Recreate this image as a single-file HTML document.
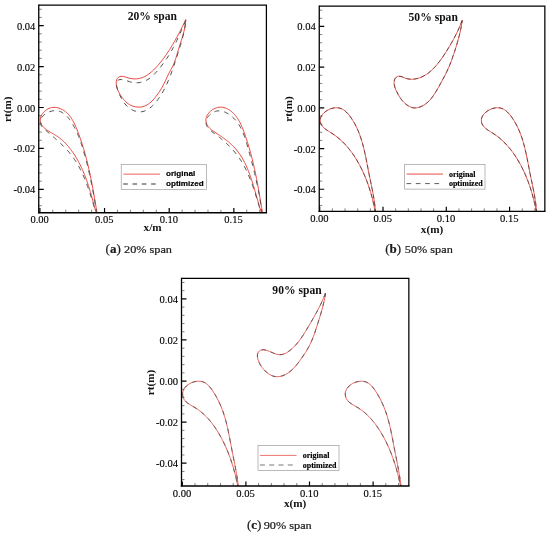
<!DOCTYPE html>
<html><head><meta charset="utf-8"><title>Blade profiles</title>
<style>
html,body{margin:0;padding:0;background:#fff;}
svg{display:block;}
text{font-family:"Liberation Serif",serif;fill:#111;}
.tk text{fill:#000;stroke:#000;stroke-width:0.12px;}
.lb{font-size:11.2px;font-weight:bold;}
.tt{font-size:11.6px;font-weight:bold;}
.lga{font-family:"Liberation Sans",sans-serif;font-size:8.1px;font-weight:bold;fill:#000;stroke:#000;stroke-width:0.2px;}
.lgb{font-size:8px;font-weight:bold;fill:#000;stroke:#000;stroke-width:0.15px;}
.cp{font-size:13px;fill:#1a1a1a;stroke:#1a1a1a;stroke-width:0.2px;}
.cps{font-size:10.4px;fill:#1a1a1a;stroke:#1a1a1a;stroke-width:0.2px;}
</style></head><body>
<svg width="550" height="535" viewBox="0 0 550 535">
<rect width="550" height="535" fill="#fff"/>
<g>
<clipPath id="clip1"><rect x="38.75" y="5.15" width="227.65" height="207.55"/></clipPath>
<g clip-path="url(#clip1)" fill="none" stroke-linejoin="round">
<path d="M97.21,213.98 L97.00,212.68 L96.78,211.38 L96.56,210.08 L96.35,208.79 L96.13,207.49 L95.92,206.20 L95.70,204.92 L95.49,203.63 L95.27,202.34 L95.05,201.06 L94.83,199.78 L94.62,198.50 L94.40,197.23 L94.17,195.95 L93.95,194.68 L93.73,193.41 L93.50,192.14 L93.28,190.87 L93.05,189.61 L92.82,188.34 L92.58,187.08 L92.35,185.82 L92.11,184.56 L91.87,183.30 L91.63,182.05 L91.38,180.79 L91.13,179.54 L90.88,178.29 L90.63,177.03 L90.37,175.78 L90.11,174.54 L89.84,173.29 L89.57,172.04 L89.30,170.80 L89.02,169.55 L88.74,168.31 L88.46,167.07 L88.16,165.82 L87.87,164.58 L87.57,163.34 L87.27,162.10 L86.96,160.86 L86.64,159.63 L86.32,158.39 L86.00,157.15 L85.66,155.92 L85.33,154.68 L84.98,153.45 L84.64,152.21 L84.28,150.98 L83.92,149.74 L83.55,148.51 L83.18,147.28 L82.80,146.04 L82.41,144.81 L82.01,143.58 L81.61,142.34 L81.20,141.11 L80.79,139.88 L80.36,138.64 L79.93,137.41 L79.49,136.18 L79.04,134.95 L78.59,133.71 L78.12,132.48 L77.65,131.24 L77.17,130.01 L76.68,128.78 L76.17,127.56 L75.65,126.34 L75.12,125.14 L74.56,123.95 L73.98,122.77 L73.38,121.62 L72.76,120.49 L72.10,119.38 L71.42,118.31 L70.71,117.26 L69.96,116.25 L69.18,115.27 L68.36,114.33 L67.50,113.44 L66.61,112.59 L65.66,111.79 L64.68,111.03 L63.64,110.33 L62.56,109.69 L61.43,109.11 L60.26,108.60 L59.06,108.16 L57.83,107.81 L56.58,107.56 L55.32,107.40 L54.05,107.36 L52.78,107.43 L51.51,107.63 L50.26,107.95 L49.02,108.42 L47.82,109.01 L46.66,109.71 L45.55,110.52 L44.52,111.41 L43.57,112.38 L42.72,113.41 L41.97,114.50 L41.34,115.62 L40.85,116.77 L40.50,117.93 L40.31,119.09 L40.28,120.24 L40.40,121.37 L40.66,122.49 L41.06,123.57 L41.57,124.62 L42.21,125.62 L42.94,126.58 L43.78,127.48 L44.70,128.33 L45.69,129.13 L46.73,129.90 L47.81,130.63 L48.92,131.33 L50.04,132.00 L51.16,132.66 L52.27,133.31 L53.35,133.94 L54.42,134.58 L55.46,135.21 L56.49,135.86 L57.50,136.53 L58.50,137.21 L59.48,137.93 L60.44,138.67 L61.40,139.45 L62.34,140.27 L63.26,141.11 L64.17,141.98 L65.07,142.88 L65.95,143.80 L66.81,144.75 L67.66,145.71 L68.50,146.69 L69.31,147.69 L70.11,148.69 L70.90,149.71 L71.66,150.74 L72.41,151.79 L73.14,152.84 L73.86,153.90 L74.56,154.97 L75.24,156.05 L75.91,157.14 L76.57,158.24 L77.21,159.34 L77.84,160.46 L78.45,161.58 L79.05,162.71 L79.64,163.85 L80.21,165.00 L80.77,166.15 L81.32,167.31 L81.86,168.48 L82.38,169.65 L82.90,170.83 L83.40,172.01 L83.89,173.20 L84.38,174.40 L84.85,175.60 L85.31,176.81 L85.77,178.01 L86.21,179.23 L86.65,180.45 L87.08,181.67 L87.50,182.89 L87.91,184.12 L88.31,185.35 L88.71,186.58 L89.10,187.82 L89.49,189.05 L89.87,190.29 L90.24,191.53 L90.61,192.77 L90.97,194.02 L91.33,195.26 L91.68,196.50 L92.03,197.75 L92.38,198.99 L92.72,200.23 L93.06,201.48 L93.39,202.72 L93.73,203.96 L94.06,205.20 L94.39,206.44 L94.72,207.67 L95.04,208.90 L95.37,210.13 L95.69,211.36 L96.02,212.59 L96.34,213.81" stroke="#e63a32" stroke-width="0.95"/>
<path d="M185.73,19.62 L185.08,21.01 L184.42,22.40 L183.75,23.78 L183.08,25.17 L182.40,26.55 L181.72,27.93 L181.02,29.31 L180.32,30.69 L179.62,32.06 L178.90,33.43 L178.18,34.79 L177.45,36.15 L176.72,37.51 L175.97,38.86 L175.21,40.21 L174.45,41.55 L173.68,42.88 L172.90,44.21 L172.10,45.53 L171.30,46.85 L170.49,48.16 L169.67,49.46 L168.84,50.75 L167.99,52.03 L167.14,53.31 L166.27,54.57 L165.39,55.83 L164.50,57.07 L163.59,58.31 L162.67,59.53 L161.73,60.75 L160.77,61.95 L159.79,63.14 L158.79,64.31 L157.78,65.48 L156.74,66.63 L155.68,67.77 L154.59,68.89 L153.48,70.00 L152.35,71.08 L151.19,72.12 L150.00,73.11 L148.77,74.06 L147.52,74.94 L146.23,75.75 L144.91,76.49 L143.55,77.14 L142.15,77.69 L140.72,78.14 L139.25,78.48 L137.75,78.73 L136.22,78.86 L134.68,78.89 L133.12,78.81 L131.56,78.63 L129.99,78.35 L128.42,77.95 L126.87,77.47 L125.32,76.98 L123.80,76.57 L122.29,76.33 L120.80,76.36 L119.38,76.72 L118.18,77.44 L117.29,78.48 L116.69,79.79 L116.34,81.28 L116.22,82.87 L116.29,84.50 L116.52,86.09 L116.88,87.61 L117.36,89.06 L117.94,90.47 L118.60,91.84 L119.33,93.19 L120.11,94.52 L120.94,95.84 L121.82,97.14 L122.75,98.40 L123.74,99.61 L124.78,100.76 L125.87,101.85 L127.03,102.87 L128.25,103.79 L129.54,104.62 L130.89,105.33 L132.31,105.93 L133.78,106.42 L135.29,106.77 L136.82,107.00 L138.37,107.11 L139.91,107.08 L141.43,106.92 L142.93,106.63 L144.38,106.19 L145.77,105.62 L147.11,104.92 L148.39,104.11 L149.63,103.20 L150.81,102.20 L151.95,101.12 L153.05,99.98 L154.10,98.79 L155.12,97.56 L156.10,96.31 L157.04,95.04 L157.95,93.78 L158.82,92.51 L159.67,91.24 L160.49,89.96 L161.28,88.68 L162.04,87.38 L162.78,86.06 L163.49,84.73 L164.18,83.37 L164.86,82.00 L165.51,80.60 L166.16,79.18 L166.80,77.77 L167.45,76.35 L168.11,74.94 L168.78,73.55 L169.48,72.17 L170.22,70.83 L170.98,69.52 L171.73,68.21 L172.43,66.87 L173.09,65.51 L173.70,64.12 L174.27,62.71 L174.81,61.28 L175.32,59.84 L175.81,58.38 L176.27,56.91 L176.73,55.43 L177.17,53.94 L177.61,52.46 L178.05,50.97 L178.49,49.48 L178.94,48.00 L179.41,46.52 L179.87,45.04 L180.35,43.57 L180.82,42.10 L181.29,40.63 L181.75,39.16 L182.21,37.69 L182.65,36.22 L183.07,34.75 L183.48,33.27 L183.87,31.78 L184.23,30.29 L184.56,28.80 L184.86,27.29 L185.13,25.78 L185.36,24.25 L185.55,22.72 L185.70,21.17 L185.79,19.61" stroke="#e63a32" stroke-width="0.95"/>
<path d="M262.57,213.90 L262.37,212.61 L262.16,211.33 L261.96,210.04 L261.76,208.76 L261.55,207.48 L261.35,206.20 L261.14,204.93 L260.94,203.65 L260.73,202.38 L260.52,201.11 L260.31,199.84 L260.10,198.57 L259.89,197.30 L259.68,196.03 L259.47,194.77 L259.25,193.50 L259.03,192.24 L258.82,190.98 L258.59,189.72 L258.37,188.46 L258.15,187.20 L257.92,185.95 L257.69,184.69 L257.46,183.44 L257.22,182.19 L256.98,180.93 L256.74,179.68 L256.50,178.43 L256.25,177.18 L256.00,175.94 L255.74,174.69 L255.49,173.44 L255.23,172.20 L254.96,170.95 L254.69,169.71 L254.42,168.46 L254.14,167.22 L253.86,165.98 L253.57,164.74 L253.28,163.50 L252.99,162.26 L252.69,161.02 L252.39,159.78 L252.08,158.54 L251.76,157.30 L251.44,156.07 L251.12,154.83 L250.79,153.59 L250.45,152.36 L250.11,151.12 L249.76,149.88 L249.41,148.65 L249.05,147.41 L248.68,146.18 L248.31,144.94 L247.93,143.71 L247.55,142.48 L247.16,141.24 L246.76,140.01 L246.35,138.77 L245.94,137.54 L245.52,136.30 L245.09,135.07 L244.66,133.83 L244.22,132.60 L243.77,131.37 L243.30,130.14 L242.83,128.92 L242.34,127.70 L241.83,126.49 L241.30,125.30 L240.75,124.12 L240.18,122.96 L239.58,121.81 L238.95,120.68 L238.29,119.58 L237.60,118.50 L236.88,117.44 L236.12,116.41 L235.32,115.42 L234.49,114.45 L233.61,113.52 L232.68,112.62 L231.71,111.77 L230.70,110.96 L229.65,110.21 L228.56,109.52 L227.44,108.90 L226.29,108.36 L225.11,107.91 L223.91,107.55 L222.69,107.29 L221.45,107.15 L220.20,107.13 L218.93,107.23 L217.66,107.47 L216.39,107.83 L215.13,108.31 L213.91,108.91 L212.73,109.60 L211.60,110.38 L210.53,111.24 L209.55,112.17 L208.66,113.16 L207.87,114.20 L207.20,115.28 L206.66,116.39 L206.27,117.52 L206.02,118.67 L205.93,119.82 L205.97,120.96 L206.16,122.09 L206.47,123.21 L206.90,124.30 L207.45,125.35 L208.10,126.36 L208.86,127.32 L209.70,128.23 L210.63,129.09 L211.62,129.91 L212.67,130.70 L213.75,131.46 L214.86,132.20 L215.98,132.94 L217.10,133.67 L218.21,134.40 L219.31,135.13 L220.40,135.87 L221.48,136.61 L222.54,137.36 L223.59,138.12 L224.63,138.88 L225.65,139.65 L226.65,140.43 L227.64,141.22 L228.62,142.03 L229.57,142.84 L230.51,143.67 L231.43,144.51 L232.33,145.36 L233.21,146.23 L234.07,147.12 L234.91,148.03 L235.73,148.95 L236.53,149.90 L237.30,150.86 L238.06,151.83 L238.80,152.83 L239.51,153.84 L240.21,154.87 L240.89,155.91 L241.55,156.97 L242.19,158.04 L242.82,159.13 L243.43,160.23 L244.03,161.34 L244.61,162.46 L245.17,163.60 L245.72,164.75 L246.26,165.90 L246.78,167.07 L247.29,168.25 L247.79,169.43 L248.27,170.63 L248.75,171.83 L249.21,173.04 L249.67,174.26 L250.11,175.48 L250.54,176.71 L250.97,177.94 L251.39,179.18 L251.80,180.42 L252.20,181.67 L252.59,182.92 L252.98,184.17 L253.37,185.43 L253.74,186.68 L254.12,187.94 L254.49,189.19 L254.85,190.45 L255.21,191.71 L255.57,192.96 L255.93,194.22 L256.28,195.47 L256.64,196.72 L256.99,197.96 L257.34,199.20 L257.70,200.44 L258.05,201.67 L258.41,202.90 L258.76,204.12 L259.12,205.33 L259.48,206.54 L259.85,207.74 L260.22,208.93 L260.59,210.12 L260.97,211.29 L261.35,212.45 L261.74,213.61" stroke="#e63a32" stroke-width="0.95"/>
<path d="M96.76,213.81 L96.57,212.60 L96.39,211.39 L96.20,210.18 L96.01,208.97 L95.82,207.75 L95.62,206.53 L95.42,205.32 L95.22,204.10 L95.02,202.88 L94.82,201.65 L94.61,200.43 L94.40,199.21 L94.19,197.98 L93.97,196.75 L93.75,195.53 L93.53,194.30 L93.31,193.07 L93.08,191.84 L92.85,190.61 L92.62,189.39 L92.39,188.16 L92.15,186.93 L91.91,185.70 L91.66,184.47 L91.42,183.24 L91.17,182.02 L90.92,180.79 L90.66,179.56 L90.40,178.34 L90.14,177.11 L89.87,175.89 L89.60,174.67 L89.33,173.45 L89.05,172.23 L88.77,171.01 L88.49,169.79 L88.20,168.58 L87.91,167.36 L87.62,166.15 L87.32,164.94 L87.02,163.73 L86.71,162.53 L86.40,161.33 L86.09,160.12 L85.77,158.93 L85.45,157.73 L85.13,156.54 L84.80,155.35 L84.47,154.16 L84.13,152.98 L83.79,151.79 L83.44,150.62 L83.09,149.44 L82.74,148.27 L82.38,147.10 L82.01,145.93 L81.63,144.77 L81.25,143.61 L80.85,142.45 L80.45,141.29 L80.03,140.13 L79.60,138.98 L79.16,137.82 L78.71,136.67 L78.24,135.52 L77.75,134.37 L77.25,133.22 L76.73,132.07 L76.20,130.92 L75.64,129.77 L75.07,128.62 L74.47,127.47 L73.86,126.33 L73.22,125.18 L72.56,124.04 L71.87,122.92 L71.17,121.81 L70.44,120.72 L69.68,119.67 L68.90,118.65 L68.10,117.66 L67.27,116.72 L66.41,115.83 L65.52,114.99 L64.61,114.21 L63.67,113.49 L62.70,112.84 L61.70,112.26 L60.67,111.76 L59.61,111.35 L58.52,111.02 L57.40,110.79 L56.24,110.65 L55.06,110.62 L53.84,110.70 L52.58,110.88 L51.31,111.19 L50.03,111.59 L48.75,112.09 L47.51,112.69 L46.31,113.36 L45.17,114.11 L44.11,114.93 L43.15,115.82 L42.31,116.76 L41.59,117.74 L41.02,118.77 L40.62,119.82 L40.39,120.91 L40.33,122.00 L40.43,123.09 L40.69,124.16 L41.10,125.20 L41.66,126.20 L42.36,127.14 L43.18,128.03 L44.07,128.89 L45.02,129.72 L45.98,130.55 L46.93,131.37 L47.89,132.20 L48.85,133.02 L49.81,133.84 L50.77,134.66 L51.72,135.48 L52.67,136.31 L53.62,137.13 L54.57,137.96 L55.51,138.78 L56.45,139.62 L57.38,140.45 L58.31,141.29 L59.22,142.13 L60.14,142.98 L61.04,143.84 L61.94,144.70 L62.82,145.56 L63.70,146.44 L64.57,147.32 L65.43,148.21 L66.27,149.11 L67.11,150.02 L67.93,150.93 L68.74,151.86 L69.53,152.80 L70.31,153.75 L71.08,154.71 L71.83,155.68 L72.56,156.67 L73.28,157.66 L73.99,158.67 L74.68,159.69 L75.35,160.72 L76.02,161.76 L76.67,162.81 L77.30,163.87 L77.92,164.94 L78.53,166.02 L79.13,167.11 L79.71,168.21 L80.29,169.31 L80.85,170.42 L81.40,171.54 L81.94,172.67 L82.46,173.80 L82.98,174.94 L83.49,176.08 L83.99,177.23 L84.47,178.39 L84.95,179.55 L85.42,180.71 L85.89,181.88 L86.34,183.05 L86.78,184.23 L87.22,185.41 L87.65,186.59 L88.07,187.77 L88.49,188.96 L88.90,190.14 L89.30,191.33 L89.70,192.52 L90.09,193.71 L90.48,194.90 L90.86,196.09 L91.24,197.28 L91.61,198.47 L91.98,199.66 L92.34,200.85 L92.70,202.03 L93.06,203.21 L93.41,204.39 L93.76,205.57 L94.11,206.74 L94.46,207.91 L94.80,209.08 L95.15,210.24 L95.49,211.39 L95.83,212.54 L96.17,213.69" stroke="#4a4a4a" stroke-width="1.00" stroke-dasharray="4.8 5"/>
<path d="M185.83,20.11 L185.21,21.57 L184.59,23.02 L183.96,24.48 L183.34,25.94 L182.71,27.40 L182.08,28.86 L181.45,30.32 L180.81,31.77 L180.17,33.23 L179.51,34.68 L178.86,36.13 L178.19,37.58 L177.52,39.02 L176.84,40.46 L176.15,41.89 L175.44,43.32 L174.73,44.74 L174.00,46.15 L173.26,47.55 L172.51,48.95 L171.74,50.34 L170.96,51.72 L170.16,53.09 L169.35,54.45 L168.52,55.80 L167.67,57.14 L166.80,58.46 L165.91,59.78 L165.01,61.08 L164.09,62.37 L163.15,63.65 L162.20,64.92 L161.23,66.18 L160.24,67.42 L159.23,68.65 L158.21,69.87 L157.17,71.08 L156.12,72.27 L155.04,73.44 L153.94,74.59 L152.80,75.69 L151.63,76.75 L150.41,77.75 L149.15,78.68 L147.83,79.54 L146.45,80.31 L145.01,80.98 L143.52,81.56 L141.98,82.03 L140.42,82.39 L138.84,82.65 L137.25,82.78 L135.65,82.80 L134.06,82.69 L132.49,82.46 L130.95,82.09 L129.43,81.62 L127.91,81.10 L126.38,80.58 L124.82,80.11 L123.21,79.74 L121.56,79.54 L119.98,79.57 L118.59,79.92 L117.49,80.65 L116.77,81.78 L116.46,83.23 L116.49,84.87 L116.77,86.61 L117.19,88.32 L117.67,89.92 L118.21,91.44 L118.79,92.90 L119.41,94.33 L120.07,95.75 L120.77,97.17 L121.51,98.58 L122.30,99.97 L123.14,101.33 L124.03,102.65 L124.99,103.93 L126.01,105.14 L127.10,106.28 L128.27,107.35 L129.51,108.32 L130.84,109.20 L132.26,109.97 L133.74,110.63 L135.28,111.15 L136.86,111.54 L138.45,111.78 L140.03,111.85 L141.59,111.75 L143.10,111.48 L144.57,111.04 L146.00,110.46 L147.38,109.74 L148.71,108.90 L150.00,107.95 L151.25,106.92 L152.45,105.81 L153.60,104.65 L154.71,103.44 L155.78,102.20 L156.80,100.95 L157.78,99.68 L158.72,98.39 L159.63,97.09 L160.50,95.77 L161.34,94.44 L162.15,93.09 L162.94,91.73 L163.70,90.36 L164.44,88.97 L165.16,87.56 L165.85,86.15 L166.53,84.72 L167.18,83.29 L167.82,81.84 L168.45,80.38 L169.05,78.92 L169.64,77.45 L170.22,75.96 L170.78,74.48 L171.34,72.98 L171.88,71.48 L172.41,69.98 L172.93,68.47 L173.45,66.96 L173.96,65.45 L174.46,63.93 L174.96,62.41 L175.45,60.89 L175.94,59.37 L176.43,57.85 L176.92,56.34 L177.41,54.82 L177.90,53.31 L178.38,51.79 L178.87,50.28 L179.34,48.76 L179.81,47.25 L180.28,45.74 L180.74,44.22 L181.18,42.70 L181.62,41.18 L182.05,39.65 L182.46,38.13 L182.85,36.59 L183.24,35.06 L183.60,33.52 L183.95,31.97 L184.28,30.42 L184.59,28.86 L184.87,27.29 L185.14,25.72 L185.38,24.14 L185.59,22.55 L185.78,20.95" stroke="#4a4a4a" stroke-width="1.00" stroke-dasharray="4.8 5"/>
<path d="M262.07,213.98 L261.92,212.72 L261.77,211.46 L261.61,210.21 L261.44,208.96 L261.27,207.71 L261.09,206.46 L260.91,205.22 L260.73,203.98 L260.54,202.74 L260.34,201.51 L260.14,200.27 L259.94,199.04 L259.73,197.82 L259.51,196.59 L259.30,195.37 L259.07,194.14 L258.85,192.93 L258.62,191.71 L258.38,190.49 L258.14,189.28 L257.90,188.06 L257.65,186.85 L257.40,185.64 L257.15,184.44 L256.89,183.23 L256.63,182.02 L256.36,180.82 L256.09,179.61 L255.82,178.41 L255.55,177.21 L255.27,176.01 L254.98,174.80 L254.70,173.60 L254.41,172.40 L254.12,171.20 L253.82,170.01 L253.53,168.81 L253.22,167.61 L252.92,166.41 L252.62,165.21 L252.31,164.01 L252.00,162.81 L251.68,161.61 L251.36,160.41 L251.05,159.21 L250.72,158.01 L250.40,156.81 L250.08,155.60 L249.75,154.40 L249.42,153.20 L249.09,151.99 L248.75,150.78 L248.42,149.58 L248.08,148.37 L247.74,147.16 L247.40,145.95 L247.05,144.73 L246.70,143.52 L246.35,142.31 L245.98,141.11 L245.61,139.91 L245.22,138.71 L244.82,137.52 L244.41,136.33 L243.99,135.16 L243.54,133.99 L243.08,132.83 L242.60,131.69 L242.09,130.55 L241.57,129.43 L241.01,128.33 L240.44,127.24 L239.83,126.16 L239.20,125.10 L238.54,124.06 L237.84,123.04 L237.11,122.04 L236.35,121.06 L235.55,120.11 L234.71,119.17 L233.84,118.26 L232.92,117.38 L231.98,116.54 L231.00,115.73 L229.99,114.96 L228.95,114.25 L227.89,113.59 L226.81,112.99 L225.71,112.45 L224.60,111.98 L223.47,111.59 L222.34,111.27 L221.19,111.05 L220.05,110.91 L218.90,110.87 L217.75,110.92 L216.61,111.09 L215.47,111.36 L214.35,111.75 L213.23,112.26 L212.14,112.90 L211.06,113.67 L210.03,114.54 L209.08,115.50 L208.21,116.53 L207.47,117.62 L206.86,118.75 L206.42,119.89 L206.14,121.05 L206.03,122.19 L206.07,123.32 L206.27,124.41 L206.61,125.46 L207.09,126.46 L207.70,127.42 L208.42,128.34 L209.23,129.22 L210.12,130.08 L211.08,130.91 L212.08,131.73 L213.12,132.53 L214.18,133.32 L215.25,134.11 L216.31,134.91 L217.35,135.70 L218.38,136.50 L219.40,137.31 L220.40,138.12 L221.39,138.94 L222.37,139.76 L223.33,140.58 L224.28,141.41 L225.22,142.25 L226.14,143.10 L227.05,143.95 L227.95,144.81 L228.83,145.67 L229.69,146.54 L230.55,147.42 L231.39,148.31 L232.21,149.21 L233.02,150.12 L233.82,151.03 L234.61,151.95 L235.38,152.89 L236.13,153.83 L236.87,154.78 L237.60,155.75 L238.31,156.72 L239.01,157.71 L239.70,158.70 L240.37,159.71 L241.02,160.73 L241.67,161.76 L242.30,162.80 L242.91,163.85 L243.51,164.91 L244.10,165.99 L244.68,167.07 L245.24,168.16 L245.80,169.26 L246.34,170.37 L246.87,171.48 L247.39,172.60 L247.90,173.73 L248.40,174.87 L248.89,176.01 L249.37,177.16 L249.84,178.32 L250.31,179.48 L250.76,180.65 L251.21,181.82 L251.65,182.99 L252.08,184.17 L252.50,185.35 L252.92,186.53 L253.33,187.72 L253.73,188.91 L254.13,190.10 L254.53,191.29 L254.91,192.49 L255.30,193.68 L255.68,194.87 L256.05,196.07 L256.42,197.26 L256.79,198.46 L257.15,199.65 L257.51,200.84 L257.87,202.03 L258.23,203.22 L258.58,204.40 L258.94,205.58 L259.29,206.76 L259.64,207.93 L259.99,209.10 L260.34,210.26 L260.69,211.42 L261.04,212.58 L261.40,213.73" stroke="#4a4a4a" stroke-width="1.00" stroke-dasharray="4.8 5"/>
</g>
<path d="M38.75,205.76h3.0 M38.75,197.57h3.0 M38.75,181.19h3.0 M38.75,173.00h3.0 M38.75,164.82h3.0 M38.75,156.63h3.0 M38.75,140.25h3.0 M38.75,132.06h3.0 M38.75,123.88h3.0 M38.75,115.69h3.0 M38.75,99.31h3.0 M38.75,91.12h3.0 M38.75,82.94h3.0 M38.75,74.75h3.0 M38.75,58.37h3.0 M38.75,50.18h3.0 M38.75,42.00h3.0 M38.75,33.81h3.0 M38.75,17.43h3.0 M38.75,9.24h3.0 M52.83,212.70v-3.0 M65.76,212.70v-3.0 M78.69,212.70v-3.0 M91.62,212.70v-3.0 M117.48,212.70v-3.0 M130.41,212.70v-3.0 M143.34,212.70v-3.0 M156.27,212.70v-3.0 M182.13,212.70v-3.0 M195.06,212.70v-3.0 M207.99,212.70v-3.0 M220.92,212.70v-3.0 M246.78,212.70v-3.0 M259.71,212.70v-3.0" stroke="#4a4a4a" stroke-width="0.7" fill="none"/>
<path d="M38.75,25.62h5.0 M38.75,66.56h5.0 M38.75,107.50h5.0 M38.75,148.44h5.0 M38.75,189.38h5.0 M39.90,212.70v-4.6 M104.55,212.70v-4.6 M169.20,212.70v-4.6 M233.85,212.70v-4.6" stroke="#000" stroke-width="1.2" fill="none"/>
<path d="M38.75,5.15H266.40V212.70" stroke="#000" stroke-width="1.25" fill="none"/>
<path d="M38.75,5.15V212.70" stroke="#000" stroke-width="1.3" fill="none" stroke-linecap="square"/>
<path d="M38.75,212.70H266.40" stroke="#000" stroke-width="1.4" fill="none" stroke-linecap="square"/>
<g class="tk" font-size="10.5">
<text x="35.35" y="29.62" text-anchor="end">0.04</text>
<text x="35.35" y="70.56" text-anchor="end">0.02</text>
<text x="35.35" y="111.50" text-anchor="end">0.00</text>
<text x="35.35" y="152.44" text-anchor="end">-0.02</text>
<text x="35.35" y="193.38" text-anchor="end">-0.04</text>
<text x="39.60" y="223.20" text-anchor="middle">0.00</text>
<text x="104.25" y="223.20" text-anchor="middle">0.05</text>
<text x="168.90" y="223.20" text-anchor="middle">0.10</text>
<text x="233.55" y="223.20" text-anchor="middle">0.15</text>
</g>
<text class="lb" x="152.57" y="231.10" text-anchor="middle">x/m</text>
<text class="lb" transform="translate(11.25,109.22) rotate(-90)" text-anchor="middle">rt(m)</text>
<text class="tt" x="152.40" y="20.30" text-anchor="middle">20% span</text>
<rect x="121.20" y="164.30" width="85.10" height="25.20" fill="#fff" stroke="#8c8c8c" stroke-width="0.6"/>
<path d="M123.40,174.15H160.00" stroke="#e63a32" stroke-width="0.80"/>
<path d="M123.20,184.00H157.00" stroke="#777" stroke-width="1.30" stroke-dasharray="4.6 4.7"/>
<text class="lga" x="166.00" y="176.40">original</text>
<text class="lga" x="166.00" y="185.60">optimized</text>
<text class="cp" x="105.60" y="252.50">(<tspan font-weight="bold">a</tspan>)</text>
<text class="cps" transform="translate(124.00,252.50) scale(1.180,1)">20% span</text>
</g>
<g>
<clipPath id="clip2"><rect x="319.25" y="6.05" width="225.60" height="205.30"/></clipPath>
<g clip-path="url(#clip2)" fill="none" stroke-linejoin="round">
<path d="M375.54,213.60 L375.47,212.31 L375.39,211.03 L375.29,209.75 L375.18,208.47 L375.06,207.20 L374.92,205.93 L374.77,204.66 L374.61,203.40 L374.44,202.14 L374.26,200.88 L374.07,199.62 L373.87,198.37 L373.66,197.12 L373.45,195.87 L373.23,194.62 L373.00,193.38 L372.77,192.13 L372.53,190.89 L372.28,189.64 L372.03,188.40 L371.78,187.16 L371.53,185.92 L371.27,184.68 L371.01,183.44 L370.75,182.19 L370.49,180.95 L370.23,179.71 L369.97,178.47 L369.72,177.23 L369.46,175.98 L369.21,174.74 L368.96,173.49 L368.71,172.24 L368.47,170.99 L368.23,169.74 L367.99,168.49 L367.75,167.24 L367.51,165.99 L367.27,164.74 L367.02,163.49 L366.78,162.24 L366.54,160.99 L366.29,159.74 L366.04,158.49 L365.78,157.24 L365.53,156.00 L365.26,154.76 L364.99,153.52 L364.72,152.28 L364.43,151.04 L364.15,149.81 L363.85,148.58 L363.54,147.35 L363.23,146.13 L362.91,144.91 L362.57,143.70 L362.23,142.48 L361.87,141.28 L361.50,140.07 L361.12,138.88 L360.73,137.68 L360.33,136.50 L359.91,135.31 L359.47,134.14 L359.02,132.96 L358.55,131.80 L358.06,130.64 L357.56,129.48 L357.04,128.33 L356.49,127.18 L355.93,126.05 L355.35,124.91 L354.74,123.78 L354.11,122.66 L353.46,121.55 L352.78,120.44 L352.08,119.33 L351.35,118.23 L350.59,117.14 L349.81,116.07 L349.00,115.02 L348.15,114.01 L347.28,113.05 L346.37,112.13 L345.43,111.28 L344.45,110.51 L343.44,109.81 L342.39,109.20 L341.31,108.69 L340.18,108.29 L339.02,108.00 L337.83,107.82 L336.61,107.75 L335.38,107.78 L334.14,107.91 L332.89,108.14 L331.64,108.47 L330.40,108.89 L329.18,109.40 L327.98,110.01 L326.80,110.70 L325.68,111.47 L324.62,112.31 L323.63,113.22 L322.75,114.19 L321.97,115.22 L321.32,116.31 L320.81,117.43 L320.46,118.59 L320.27,119.78 L320.26,120.98 L320.41,122.17 L320.74,123.32 L321.23,124.43 L321.85,125.48 L322.58,126.45 L323.40,127.36 L324.31,128.20 L325.28,129.00 L326.31,129.76 L327.38,130.48 L328.49,131.19 L329.61,131.88 L330.73,132.58 L331.85,133.28 L332.94,134.00 L334.02,134.73 L335.08,135.49 L336.12,136.26 L337.14,137.04 L338.14,137.85 L339.12,138.67 L340.08,139.50 L341.03,140.35 L341.95,141.22 L342.86,142.10 L343.76,142.99 L344.63,143.90 L345.49,144.82 L346.34,145.75 L347.17,146.70 L347.98,147.65 L348.78,148.62 L349.56,149.60 L350.33,150.59 L351.09,151.60 L351.83,152.61 L352.56,153.63 L353.28,154.66 L353.98,155.70 L354.67,156.75 L355.35,157.81 L356.02,158.88 L356.68,159.95 L357.32,161.03 L357.96,162.12 L358.58,163.22 L359.19,164.32 L359.79,165.44 L360.37,166.55 L360.95,167.68 L361.52,168.81 L362.07,169.95 L362.61,171.09 L363.15,172.24 L363.67,173.40 L364.18,174.56 L364.68,175.72 L365.17,176.90 L365.66,178.07 L366.13,179.25 L366.59,180.44 L367.04,181.63 L367.48,182.83 L367.91,184.03 L368.33,185.23 L368.74,186.43 L369.15,187.64 L369.54,188.86 L369.92,190.07 L370.30,191.29 L370.66,192.52 L371.02,193.74 L371.37,194.97 L371.71,196.20 L372.04,197.43 L372.36,198.66 L372.67,199.90 L372.98,201.13 L373.27,202.37 L373.56,203.61 L373.84,204.85 L374.11,206.09 L374.38,207.33 L374.63,208.57 L374.88,209.81 L375.12,211.05 L375.36,212.29 L375.58,213.53" stroke="#e63a32" stroke-width="0.85"/>
<path d="M462.22,20.37 L461.65,21.83 L461.07,23.28 L460.48,24.71 L459.87,26.14 L459.26,27.54 L458.64,28.94 L458.00,30.33 L457.36,31.71 L456.70,33.07 L456.03,34.43 L455.35,35.78 L454.66,37.12 L453.96,38.46 L453.24,39.78 L452.52,41.11 L451.78,42.42 L451.03,43.73 L450.27,45.04 L449.50,46.34 L448.72,47.64 L447.92,48.93 L447.12,50.23 L446.30,51.52 L445.47,52.81 L444.62,54.10 L443.77,55.39 L442.90,56.68 L442.02,57.96 L441.12,59.23 L440.21,60.49 L439.27,61.73 L438.32,62.96 L437.35,64.17 L436.36,65.35 L435.34,66.50 L434.30,67.63 L433.24,68.72 L432.15,69.78 L431.03,70.80 L429.89,71.78 L428.72,72.71 L427.51,73.60 L426.28,74.44 L425.01,75.22 L423.71,75.95 L422.38,76.62 L421.01,77.22 L419.60,77.77 L418.16,78.24 L416.69,78.63 L415.19,78.93 L413.67,79.13 L412.14,79.23 L410.59,79.21 L409.04,79.06 L407.49,78.78 L405.95,78.35 L404.41,77.79 L402.89,77.17 L401.40,76.62 L399.97,76.27 L398.59,76.23 L397.28,76.60 L396.12,77.37 L395.17,78.47 L394.52,79.81 L394.19,81.32 L394.11,82.89 L394.24,84.44 L394.54,85.95 L394.97,87.44 L395.51,88.90 L396.12,90.33 L396.78,91.74 L397.46,93.13 L398.18,94.49 L398.93,95.82 L399.73,97.12 L400.57,98.38 L401.47,99.59 L402.41,100.76 L403.42,101.88 L404.49,102.94 L405.62,103.95 L406.83,104.89 L408.11,105.76 L409.45,106.52 L410.85,107.15 L412.30,107.62 L413.79,107.91 L415.32,107.97 L416.88,107.81 L418.43,107.47 L419.94,106.98 L421.39,106.40 L422.76,105.73 L424.07,104.98 L425.32,104.16 L426.51,103.26 L427.65,102.30 L428.74,101.28 L429.77,100.20 L430.77,99.08 L431.72,97.90 L432.64,96.69 L433.53,95.45 L434.38,94.17 L435.21,92.86 L436.02,91.54 L436.81,90.20 L437.58,88.86 L438.34,87.50 L439.10,86.15 L439.85,84.80 L440.59,83.46 L441.33,82.12 L442.06,80.78 L442.78,79.44 L443.49,78.10 L444.20,76.77 L444.89,75.43 L445.58,74.08 L446.25,72.73 L446.91,71.38 L447.55,70.01 L448.18,68.64 L448.79,67.26 L449.39,65.86 L449.97,64.46 L450.53,63.04 L451.07,61.62 L451.61,60.18 L452.13,58.74 L452.64,57.30 L453.14,55.85 L453.63,54.39 L454.12,52.94 L454.60,51.48 L455.07,50.02 L455.54,48.57 L455.99,47.11 L456.44,45.65 L456.89,44.19 L457.32,42.72 L457.74,41.26 L458.15,39.79 L458.55,38.32 L458.94,36.85 L459.32,35.38 L459.68,33.90 L460.03,32.42 L460.36,30.93 L460.68,29.44 L460.98,27.95 L461.27,26.45 L461.54,24.95 L461.79,23.45 L462.02,21.93 L462.23,20.42" stroke="#e63a32" stroke-width="0.85"/>
<path d="M536.64,213.60 L536.57,212.31 L536.49,211.03 L536.39,209.75 L536.28,208.47 L536.16,207.20 L536.02,205.93 L535.87,204.66 L535.71,203.40 L535.54,202.14 L535.36,200.88 L535.17,199.62 L534.97,198.37 L534.76,197.12 L534.55,195.87 L534.33,194.62 L534.10,193.38 L533.87,192.13 L533.63,190.89 L533.38,189.64 L533.13,188.40 L532.88,187.16 L532.63,185.92 L532.37,184.68 L532.11,183.44 L531.85,182.19 L531.59,180.95 L531.33,179.71 L531.07,178.47 L530.82,177.23 L530.56,175.98 L530.31,174.74 L530.06,173.49 L529.81,172.24 L529.57,170.99 L529.33,169.74 L529.09,168.49 L528.85,167.24 L528.61,165.99 L528.37,164.74 L528.12,163.49 L527.88,162.24 L527.64,160.99 L527.39,159.74 L527.14,158.49 L526.88,157.24 L526.63,156.00 L526.36,154.76 L526.09,153.52 L525.82,152.28 L525.53,151.04 L525.25,149.81 L524.95,148.58 L524.64,147.35 L524.33,146.13 L524.01,144.91 L523.67,143.70 L523.33,142.48 L522.97,141.28 L522.60,140.07 L522.22,138.88 L521.83,137.68 L521.43,136.50 L521.01,135.31 L520.57,134.14 L520.12,132.96 L519.65,131.80 L519.16,130.64 L518.66,129.48 L518.14,128.33 L517.59,127.18 L517.03,126.05 L516.45,124.91 L515.84,123.78 L515.21,122.66 L514.56,121.55 L513.88,120.44 L513.18,119.33 L512.45,118.23 L511.69,117.14 L510.91,116.07 L510.10,115.02 L509.25,114.01 L508.38,113.05 L507.47,112.13 L506.53,111.28 L505.55,110.51 L504.54,109.81 L503.49,109.20 L502.41,108.69 L501.28,108.29 L500.12,108.00 L498.93,107.82 L497.71,107.75 L496.48,107.78 L495.24,107.91 L493.99,108.14 L492.74,108.47 L491.50,108.89 L490.28,109.40 L489.08,110.01 L487.90,110.70 L486.78,111.47 L485.72,112.31 L484.73,113.22 L483.85,114.19 L483.07,115.22 L482.42,116.31 L481.91,117.43 L481.56,118.59 L481.37,119.78 L481.36,120.98 L481.51,122.17 L481.84,123.32 L482.33,124.43 L482.95,125.48 L483.68,126.45 L484.50,127.36 L485.41,128.20 L486.38,129.00 L487.41,129.76 L488.48,130.48 L489.59,131.19 L490.71,131.88 L491.83,132.58 L492.95,133.28 L494.04,134.00 L495.12,134.73 L496.18,135.49 L497.22,136.26 L498.24,137.04 L499.24,137.85 L500.22,138.67 L501.18,139.50 L502.13,140.35 L503.05,141.22 L503.96,142.10 L504.86,142.99 L505.73,143.90 L506.59,144.82 L507.44,145.75 L508.27,146.70 L509.08,147.65 L509.88,148.62 L510.66,149.60 L511.43,150.59 L512.19,151.60 L512.93,152.61 L513.66,153.63 L514.38,154.66 L515.08,155.70 L515.77,156.75 L516.45,157.81 L517.12,158.88 L517.78,159.95 L518.42,161.03 L519.06,162.12 L519.68,163.22 L520.29,164.32 L520.89,165.44 L521.47,166.55 L522.05,167.68 L522.62,168.81 L523.17,169.95 L523.71,171.09 L524.25,172.24 L524.77,173.40 L525.28,174.56 L525.78,175.72 L526.27,176.90 L526.76,178.07 L527.23,179.25 L527.69,180.44 L528.14,181.63 L528.58,182.83 L529.01,184.03 L529.43,185.23 L529.84,186.43 L530.25,187.64 L530.64,188.86 L531.02,190.07 L531.40,191.29 L531.76,192.52 L532.12,193.74 L532.47,194.97 L532.81,196.20 L533.14,197.43 L533.46,198.66 L533.77,199.90 L534.08,201.13 L534.37,202.37 L534.66,203.61 L534.94,204.85 L535.21,206.09 L535.48,207.33 L535.73,208.57 L535.98,209.81 L536.22,211.05 L536.46,212.29 L536.68,213.53" stroke="#e63a32" stroke-width="0.85"/>
<path d="M375.54,213.60 L375.47,212.31 L375.39,211.03 L375.29,209.75 L375.18,208.47 L375.06,207.20 L374.92,205.93 L374.77,204.66 L374.61,203.40 L374.44,202.14 L374.26,200.88 L374.07,199.62 L373.87,198.37 L373.66,197.12 L373.45,195.87 L373.23,194.62 L373.00,193.38 L372.77,192.13 L372.53,190.89 L372.28,189.64 L372.03,188.40 L371.78,187.16 L371.53,185.92 L371.27,184.68 L371.01,183.44 L370.75,182.19 L370.49,180.95 L370.23,179.71 L369.97,178.47 L369.72,177.23 L369.46,175.98 L369.21,174.74 L368.96,173.49 L368.71,172.24 L368.47,170.99 L368.23,169.74 L367.99,168.49 L367.75,167.24 L367.51,165.99 L367.27,164.74 L367.02,163.49 L366.78,162.24 L366.54,160.99 L366.29,159.74 L366.04,158.49 L365.78,157.24 L365.53,156.00 L365.26,154.76 L364.99,153.52 L364.72,152.28 L364.43,151.04 L364.15,149.81 L363.85,148.58 L363.54,147.35 L363.23,146.13 L362.91,144.91 L362.57,143.70 L362.23,142.48 L361.87,141.28 L361.50,140.07 L361.12,138.88 L360.73,137.68 L360.33,136.50 L359.91,135.31 L359.47,134.14 L359.02,132.96 L358.55,131.80 L358.06,130.64 L357.56,129.48 L357.04,128.33 L356.49,127.18 L355.93,126.05 L355.35,124.91 L354.74,123.78 L354.11,122.66 L353.46,121.55 L352.78,120.44 L352.08,119.33 L351.35,118.23 L350.59,117.14 L349.81,116.07 L349.00,115.02 L348.15,114.01 L347.28,113.05 L346.37,112.13 L345.43,111.28 L344.45,110.51 L343.44,109.81 L342.39,109.20 L341.31,108.69 L340.18,108.29 L339.02,108.00 L337.83,107.82 L336.61,107.75 L335.38,107.78 L334.14,107.91 L332.89,108.14 L331.64,108.47 L330.40,108.89 L329.18,109.40 L327.98,110.01 L326.80,110.70 L325.68,111.47 L324.62,112.31 L323.63,113.22 L322.75,114.19 L321.97,115.22 L321.32,116.31 L320.81,117.43 L320.46,118.59 L320.27,119.78 L320.26,120.98 L320.41,122.17 L320.74,123.32 L321.23,124.43 L321.85,125.48 L322.58,126.45 L323.40,127.36 L324.31,128.20 L325.28,129.00 L326.31,129.76 L327.38,130.48 L328.49,131.19 L329.61,131.88 L330.73,132.58 L331.85,133.28 L332.94,134.00 L334.02,134.73 L335.08,135.49 L336.12,136.26 L337.14,137.04 L338.14,137.85 L339.12,138.67 L340.08,139.50 L341.03,140.35 L341.95,141.22 L342.86,142.10 L343.76,142.99 L344.63,143.90 L345.49,144.82 L346.34,145.75 L347.17,146.70 L347.98,147.65 L348.78,148.62 L349.56,149.60 L350.33,150.59 L351.09,151.60 L351.83,152.61 L352.56,153.63 L353.28,154.66 L353.98,155.70 L354.67,156.75 L355.35,157.81 L356.02,158.88 L356.68,159.95 L357.32,161.03 L357.96,162.12 L358.58,163.22 L359.19,164.32 L359.79,165.44 L360.37,166.55 L360.95,167.68 L361.52,168.81 L362.07,169.95 L362.61,171.09 L363.15,172.24 L363.67,173.40 L364.18,174.56 L364.68,175.72 L365.17,176.90 L365.66,178.07 L366.13,179.25 L366.59,180.44 L367.04,181.63 L367.48,182.83 L367.91,184.03 L368.33,185.23 L368.74,186.43 L369.15,187.64 L369.54,188.86 L369.92,190.07 L370.30,191.29 L370.66,192.52 L371.02,193.74 L371.37,194.97 L371.71,196.20 L372.04,197.43 L372.36,198.66 L372.67,199.90 L372.98,201.13 L373.27,202.37 L373.56,203.61 L373.84,204.85 L374.11,206.09 L374.38,207.33 L374.63,208.57 L374.88,209.81 L375.12,211.05 L375.36,212.29 L375.58,213.53" stroke="#222" stroke-width="0.60" stroke-dasharray="4.3 3.2"/>
<path d="M462.22,20.37 L461.65,21.83 L461.07,23.28 L460.48,24.71 L459.87,26.14 L459.26,27.54 L458.64,28.94 L458.00,30.33 L457.36,31.71 L456.70,33.07 L456.03,34.43 L455.35,35.78 L454.66,37.12 L453.96,38.46 L453.24,39.78 L452.52,41.11 L451.78,42.42 L451.03,43.73 L450.27,45.04 L449.50,46.34 L448.72,47.64 L447.92,48.93 L447.12,50.23 L446.30,51.52 L445.47,52.81 L444.62,54.10 L443.77,55.39 L442.90,56.68 L442.02,57.96 L441.12,59.23 L440.21,60.49 L439.27,61.73 L438.32,62.96 L437.35,64.17 L436.36,65.35 L435.34,66.50 L434.30,67.63 L433.24,68.72 L432.15,69.78 L431.03,70.80 L429.89,71.78 L428.72,72.71 L427.51,73.60 L426.28,74.44 L425.01,75.22 L423.71,75.95 L422.38,76.62 L421.01,77.22 L419.60,77.77 L418.16,78.24 L416.69,78.63 L415.19,78.93 L413.67,79.13 L412.14,79.23 L410.59,79.21 L409.04,79.06 L407.49,78.78 L405.95,78.35 L404.41,77.79 L402.89,77.17 L401.40,76.62 L399.97,76.27 L398.59,76.23 L397.28,76.60 L396.12,77.37 L395.17,78.47 L394.52,79.81 L394.19,81.32 L394.11,82.89 L394.24,84.44 L394.54,85.95 L394.97,87.44 L395.51,88.90 L396.12,90.33 L396.78,91.74 L397.46,93.13 L398.18,94.49 L398.93,95.82 L399.73,97.12 L400.57,98.38 L401.47,99.59 L402.41,100.76 L403.42,101.88 L404.49,102.94 L405.62,103.95 L406.83,104.89 L408.11,105.76 L409.45,106.52 L410.85,107.15 L412.30,107.62 L413.79,107.91 L415.32,107.97 L416.88,107.81 L418.43,107.47 L419.94,106.98 L421.39,106.40 L422.76,105.73 L424.07,104.98 L425.32,104.16 L426.51,103.26 L427.65,102.30 L428.74,101.28 L429.77,100.20 L430.77,99.08 L431.72,97.90 L432.64,96.69 L433.53,95.45 L434.38,94.17 L435.21,92.86 L436.02,91.54 L436.81,90.20 L437.58,88.86 L438.34,87.50 L439.10,86.15 L439.85,84.80 L440.59,83.46 L441.33,82.12 L442.06,80.78 L442.78,79.44 L443.49,78.10 L444.20,76.77 L444.89,75.43 L445.58,74.08 L446.25,72.73 L446.91,71.38 L447.55,70.01 L448.18,68.64 L448.79,67.26 L449.39,65.86 L449.97,64.46 L450.53,63.04 L451.07,61.62 L451.61,60.18 L452.13,58.74 L452.64,57.30 L453.14,55.85 L453.63,54.39 L454.12,52.94 L454.60,51.48 L455.07,50.02 L455.54,48.57 L455.99,47.11 L456.44,45.65 L456.89,44.19 L457.32,42.72 L457.74,41.26 L458.15,39.79 L458.55,38.32 L458.94,36.85 L459.32,35.38 L459.68,33.90 L460.03,32.42 L460.36,30.93 L460.68,29.44 L460.98,27.95 L461.27,26.45 L461.54,24.95 L461.79,23.45 L462.02,21.93 L462.23,20.42" stroke="#222" stroke-width="0.60" stroke-dasharray="4.3 3.2"/>
<path d="M536.64,213.60 L536.57,212.31 L536.49,211.03 L536.39,209.75 L536.28,208.47 L536.16,207.20 L536.02,205.93 L535.87,204.66 L535.71,203.40 L535.54,202.14 L535.36,200.88 L535.17,199.62 L534.97,198.37 L534.76,197.12 L534.55,195.87 L534.33,194.62 L534.10,193.38 L533.87,192.13 L533.63,190.89 L533.38,189.64 L533.13,188.40 L532.88,187.16 L532.63,185.92 L532.37,184.68 L532.11,183.44 L531.85,182.19 L531.59,180.95 L531.33,179.71 L531.07,178.47 L530.82,177.23 L530.56,175.98 L530.31,174.74 L530.06,173.49 L529.81,172.24 L529.57,170.99 L529.33,169.74 L529.09,168.49 L528.85,167.24 L528.61,165.99 L528.37,164.74 L528.12,163.49 L527.88,162.24 L527.64,160.99 L527.39,159.74 L527.14,158.49 L526.88,157.24 L526.63,156.00 L526.36,154.76 L526.09,153.52 L525.82,152.28 L525.53,151.04 L525.25,149.81 L524.95,148.58 L524.64,147.35 L524.33,146.13 L524.01,144.91 L523.67,143.70 L523.33,142.48 L522.97,141.28 L522.60,140.07 L522.22,138.88 L521.83,137.68 L521.43,136.50 L521.01,135.31 L520.57,134.14 L520.12,132.96 L519.65,131.80 L519.16,130.64 L518.66,129.48 L518.14,128.33 L517.59,127.18 L517.03,126.05 L516.45,124.91 L515.84,123.78 L515.21,122.66 L514.56,121.55 L513.88,120.44 L513.18,119.33 L512.45,118.23 L511.69,117.14 L510.91,116.07 L510.10,115.02 L509.25,114.01 L508.38,113.05 L507.47,112.13 L506.53,111.28 L505.55,110.51 L504.54,109.81 L503.49,109.20 L502.41,108.69 L501.28,108.29 L500.12,108.00 L498.93,107.82 L497.71,107.75 L496.48,107.78 L495.24,107.91 L493.99,108.14 L492.74,108.47 L491.50,108.89 L490.28,109.40 L489.08,110.01 L487.90,110.70 L486.78,111.47 L485.72,112.31 L484.73,113.22 L483.85,114.19 L483.07,115.22 L482.42,116.31 L481.91,117.43 L481.56,118.59 L481.37,119.78 L481.36,120.98 L481.51,122.17 L481.84,123.32 L482.33,124.43 L482.95,125.48 L483.68,126.45 L484.50,127.36 L485.41,128.20 L486.38,129.00 L487.41,129.76 L488.48,130.48 L489.59,131.19 L490.71,131.88 L491.83,132.58 L492.95,133.28 L494.04,134.00 L495.12,134.73 L496.18,135.49 L497.22,136.26 L498.24,137.04 L499.24,137.85 L500.22,138.67 L501.18,139.50 L502.13,140.35 L503.05,141.22 L503.96,142.10 L504.86,142.99 L505.73,143.90 L506.59,144.82 L507.44,145.75 L508.27,146.70 L509.08,147.65 L509.88,148.62 L510.66,149.60 L511.43,150.59 L512.19,151.60 L512.93,152.61 L513.66,153.63 L514.38,154.66 L515.08,155.70 L515.77,156.75 L516.45,157.81 L517.12,158.88 L517.78,159.95 L518.42,161.03 L519.06,162.12 L519.68,163.22 L520.29,164.32 L520.89,165.44 L521.47,166.55 L522.05,167.68 L522.62,168.81 L523.17,169.95 L523.71,171.09 L524.25,172.24 L524.77,173.40 L525.28,174.56 L525.78,175.72 L526.27,176.90 L526.76,178.07 L527.23,179.25 L527.69,180.44 L528.14,181.63 L528.58,182.83 L529.01,184.03 L529.43,185.23 L529.84,186.43 L530.25,187.64 L530.64,188.86 L531.02,190.07 L531.40,191.29 L531.76,192.52 L532.12,193.74 L532.47,194.97 L532.81,196.20 L533.14,197.43 L533.46,198.66 L533.77,199.90 L534.08,201.13 L534.37,202.37 L534.66,203.61 L534.94,204.85 L535.21,206.09 L535.48,207.33 L535.73,208.57 L535.98,209.81 L536.22,211.05 L536.46,212.29 L536.68,213.53" stroke="#222" stroke-width="0.60" stroke-dasharray="4.3 3.2"/>
</g>
<path d="M319.25,205.53h3.0 M319.25,197.39h3.0 M319.25,181.11h3.0 M319.25,172.97h3.0 M319.25,164.83h3.0 M319.25,156.69h3.0 M319.25,140.41h3.0 M319.25,132.27h3.0 M319.25,124.13h3.0 M319.25,115.99h3.0 M319.25,99.71h3.0 M319.25,91.57h3.0 M319.25,83.43h3.0 M319.25,75.29h3.0 M319.25,59.01h3.0 M319.25,50.87h3.0 M319.25,42.73h3.0 M319.25,34.59h3.0 M319.25,18.31h3.0 M319.25,10.17h3.0 M332.36,211.35v-3.0 M345.02,211.35v-3.0 M357.68,211.35v-3.0 M370.34,211.35v-3.0 M395.66,211.35v-3.0 M408.32,211.35v-3.0 M420.98,211.35v-3.0 M433.64,211.35v-3.0 M458.96,211.35v-3.0 M471.62,211.35v-3.0 M484.28,211.35v-3.0 M496.94,211.35v-3.0 M522.26,211.35v-3.0 M534.92,211.35v-3.0" stroke="#4a4a4a" stroke-width="0.7" fill="none"/>
<path d="M319.25,26.45h5.0 M319.25,67.15h5.0 M319.25,107.85h5.0 M319.25,148.55h5.0 M319.25,189.25h5.0 M319.70,211.35v-4.6 M383.00,211.35v-4.6 M446.30,211.35v-4.6 M509.60,211.35v-4.6" stroke="#000" stroke-width="1.2" fill="none"/>
<path d="M319.25,6.05H544.85V211.35" stroke="#000" stroke-width="1.25" fill="none"/>
<path d="M319.25,6.05V211.35" stroke="#000" stroke-width="1.3" fill="none" stroke-linecap="square"/>
<path d="M319.25,211.35H544.85" stroke="#000" stroke-width="1.4" fill="none" stroke-linecap="square"/>
<g class="tk" font-size="10.6">
<text x="315.85" y="30.45" text-anchor="end">0.04</text>
<text x="315.85" y="71.15" text-anchor="end">0.02</text>
<text x="315.85" y="111.85" text-anchor="end">0.00</text>
<text x="315.85" y="152.55" text-anchor="end">-0.02</text>
<text x="315.85" y="193.25" text-anchor="end">-0.04</text>
<text x="319.40" y="221.85" text-anchor="middle">0.00</text>
<text x="382.70" y="221.85" text-anchor="middle">0.05</text>
<text x="446.00" y="221.85" text-anchor="middle">0.10</text>
<text x="509.30" y="221.85" text-anchor="middle">0.15</text>
</g>
<text class="lb" x="432.05" y="232.65" text-anchor="middle">x(m)</text>
<text class="lb" transform="translate(291.75,109.00) rotate(-90)" text-anchor="middle">rt(m)</text>
<text class="tt" x="433.20" y="21.40" text-anchor="middle">50% span</text>
<rect x="404.70" y="164.40" width="80.30" height="24.70" fill="#fff" stroke="#8c8c8c" stroke-width="0.6"/>
<path d="M406.60,174.05H443.00" stroke="#e63a32" stroke-width="0.90"/>
<path d="M406.50,183.60H440.00" stroke="#333" stroke-width="0.80" stroke-dasharray="4.7 4.6"/>
<text class="lgb" x="448.90" y="177.00">original</text>
<text class="lgb" x="448.90" y="186.10">optimized</text>
<text class="cp" x="385.20" y="252.50">(<tspan font-weight="bold">b</tspan>)</text>
<text class="cps" transform="translate(404.80,252.50) scale(1.180,1)">50% span</text>
</g>
<g>
<clipPath id="clip3"><rect x="181.50" y="278.40" width="227.35" height="207.60"/></clipPath>
<g clip-path="url(#clip3)" fill="none" stroke-linejoin="round">
<path d="M238.58,488.60 L238.44,487.30 L238.30,486.01 L238.15,484.72 L237.98,483.43 L237.81,482.15 L237.64,480.87 L237.45,479.60 L237.26,478.32 L237.06,477.05 L236.85,475.78 L236.64,474.51 L236.42,473.25 L236.20,471.98 L235.98,470.72 L235.74,469.46 L235.51,468.20 L235.27,466.94 L235.03,465.68 L234.79,464.42 L234.54,463.16 L234.29,461.91 L234.04,460.65 L233.79,459.39 L233.54,458.13 L233.29,456.88 L233.04,455.62 L232.79,454.36 L232.54,453.10 L232.29,451.83 L232.04,450.57 L231.80,449.31 L231.56,448.04 L231.32,446.77 L231.08,445.50 L230.84,444.23 L230.60,442.96 L230.36,441.69 L230.12,440.42 L229.88,439.15 L229.63,437.88 L229.38,436.61 L229.13,435.35 L228.88,434.08 L228.62,432.81 L228.36,431.55 L228.09,430.29 L227.81,429.03 L227.53,427.77 L227.24,426.52 L226.95,425.26 L226.64,424.02 L226.33,422.77 L226.01,421.53 L225.67,420.29 L225.33,419.06 L224.98,417.83 L224.61,416.60 L224.24,415.38 L223.85,414.17 L223.44,412.96 L223.03,411.76 L222.60,410.56 L222.15,409.37 L221.70,408.18 L221.22,407.00 L220.73,405.83 L220.22,404.66 L219.70,403.50 L219.16,402.34 L218.60,401.18 L218.03,400.03 L217.44,398.89 L216.83,397.75 L216.20,396.61 L215.55,395.48 L214.88,394.35 L214.20,393.22 L213.49,392.10 L212.76,390.98 L212.01,389.87 L211.24,388.78 L210.43,387.73 L209.60,386.72 L208.72,385.76 L207.81,384.86 L206.85,384.04 L205.85,383.31 L204.80,382.67 L203.70,382.13 L202.54,381.72 L201.33,381.42 L200.08,381.25 L198.79,381.19 L197.48,381.24 L196.15,381.40 L194.83,381.66 L193.52,382.01 L192.23,382.46 L190.98,383.00 L189.77,383.62 L188.62,384.31 L187.53,385.08 L186.52,385.93 L185.61,386.83 L184.79,387.80 L184.09,388.82 L183.51,389.89 L183.06,391.01 L182.77,392.17 L182.62,393.36 L182.61,394.57 L182.75,395.77 L183.02,396.95 L183.43,398.10 L183.97,399.18 L184.63,400.20 L185.40,401.13 L186.28,402.00 L187.25,402.80 L188.29,403.56 L189.38,404.28 L190.52,404.98 L191.68,405.66 L192.86,406.33 L194.03,407.01 L195.18,407.71 L196.31,408.43 L197.41,409.17 L198.49,409.93 L199.55,410.71 L200.58,411.51 L201.59,412.33 L202.57,413.17 L203.54,414.03 L204.48,414.90 L205.40,415.80 L206.31,416.70 L207.19,417.63 L208.06,418.57 L208.90,419.52 L209.73,420.49 L210.54,421.47 L211.34,422.47 L212.12,423.47 L212.89,424.49 L213.64,425.52 L214.37,426.56 L215.10,427.61 L215.81,428.68 L216.50,429.75 L217.19,430.82 L217.87,431.91 L218.53,433.00 L219.18,434.11 L219.82,435.22 L220.45,436.33 L221.07,437.46 L221.68,438.59 L222.28,439.73 L222.86,440.87 L223.44,442.02 L224.00,443.18 L224.56,444.34 L225.10,445.51 L225.64,446.69 L226.16,447.87 L226.67,449.05 L227.18,450.24 L227.67,451.44 L228.15,452.64 L228.62,453.84 L229.09,455.05 L229.54,456.26 L229.99,457.47 L230.42,458.69 L230.85,459.92 L231.26,461.14 L231.67,462.37 L232.07,463.60 L232.46,464.84 L232.84,466.07 L233.21,467.31 L233.57,468.55 L233.92,469.79 L234.27,471.04 L234.60,472.28 L234.93,473.53 L235.25,474.78 L235.56,476.02 L235.86,477.27 L236.15,478.52 L236.44,479.77 L236.72,481.02 L236.99,482.27 L237.25,483.52 L237.50,484.76 L237.75,486.01 L237.99,487.26 L238.22,488.50" stroke="#e63a32" stroke-width="0.80"/>
<path d="M325.44,293.05 L324.91,294.47 L324.37,295.88 L323.81,297.28 L323.24,298.67 L322.64,300.05 L322.03,301.43 L321.41,302.79 L320.77,304.15 L320.11,305.50 L319.45,306.84 L318.77,308.18 L318.08,309.51 L317.38,310.84 L316.66,312.16 L315.95,313.48 L315.22,314.79 L314.48,316.10 L313.74,317.40 L312.99,318.71 L312.24,320.01 L311.49,321.31 L310.73,322.60 L309.96,323.90 L309.20,325.19 L308.43,326.49 L307.67,327.78 L306.90,329.08 L306.13,330.37 L305.35,331.65 L304.56,332.93 L303.76,334.20 L302.94,335.46 L302.11,336.71 L301.27,337.95 L300.40,339.17 L299.51,340.38 L298.60,341.57 L297.66,342.74 L296.70,343.89 L295.70,345.01 L294.67,346.12 L293.61,347.19 L292.51,348.24 L291.37,349.26 L290.19,350.25 L288.97,351.17 L287.72,352.03 L286.44,352.80 L285.13,353.46 L283.79,354.00 L282.42,354.40 L281.04,354.64 L279.63,354.71 L278.20,354.59 L276.76,354.28 L275.31,353.83 L273.84,353.27 L272.37,352.64 L270.89,352.00 L269.40,351.36 L267.91,350.78 L266.42,350.29 L264.94,349.94 L263.47,349.77 L262.06,349.84 L260.73,350.19 L259.53,350.90 L258.51,351.96 L257.79,353.26 L257.44,354.68 L257.40,356.18 L257.61,357.70 L257.98,359.23 L258.46,360.71 L259.01,362.14 L259.64,363.52 L260.35,364.84 L261.12,366.12 L261.96,367.34 L262.88,368.51 L263.85,369.63 L264.89,370.71 L265.99,371.74 L267.15,372.72 L268.37,373.64 L269.64,374.47 L270.96,375.20 L272.33,375.81 L273.75,376.28 L275.21,376.58 L276.71,376.70 L278.22,376.65 L279.72,376.46 L281.19,376.15 L282.63,375.71 L284.02,375.17 L285.38,374.53 L286.70,373.80 L287.97,373.00 L289.21,372.12 L290.40,371.18 L291.56,370.19 L292.67,369.15 L293.73,368.08 L294.76,366.99 L295.75,365.87 L296.70,364.72 L297.63,363.56 L298.54,362.38 L299.43,361.18 L300.31,359.97 L301.18,358.75 L302.04,357.52 L302.90,356.28 L303.74,355.03 L304.58,353.77 L305.40,352.51 L306.20,351.23 L306.99,349.94 L307.75,348.64 L308.49,347.33 L309.21,346.00 L309.90,344.67 L310.55,343.32 L311.18,341.96 L311.78,340.59 L312.36,339.21 L312.92,337.82 L313.45,336.43 L313.97,335.02 L314.47,333.61 L314.96,332.19 L315.44,330.77 L315.91,329.34 L316.37,327.92 L316.83,326.48 L317.29,325.05 L317.74,323.62 L318.20,322.18 L318.65,320.75 L319.10,319.31 L319.55,317.87 L319.99,316.44 L320.43,315.00 L320.86,313.55 L321.28,312.11 L321.69,310.67 L322.10,309.22 L322.49,307.77 L322.87,306.31 L323.23,304.86 L323.59,303.40 L323.92,301.94 L324.24,300.47 L324.54,299.00 L324.83,297.53 L325.09,296.06 L325.33,294.58 L325.55,293.09" stroke="#e63a32" stroke-width="0.80"/>
<path d="M401.28,488.60 L401.14,487.30 L401.00,486.01 L400.85,484.72 L400.68,483.43 L400.51,482.15 L400.34,480.87 L400.15,479.60 L399.96,478.32 L399.76,477.05 L399.55,475.78 L399.34,474.51 L399.12,473.25 L398.90,471.98 L398.68,470.72 L398.44,469.46 L398.21,468.20 L397.97,466.94 L397.73,465.68 L397.49,464.42 L397.24,463.16 L396.99,461.91 L396.74,460.65 L396.49,459.39 L396.24,458.13 L395.99,456.88 L395.74,455.62 L395.49,454.36 L395.24,453.10 L394.99,451.83 L394.74,450.57 L394.50,449.31 L394.26,448.04 L394.02,446.77 L393.78,445.50 L393.54,444.23 L393.30,442.96 L393.06,441.69 L392.82,440.42 L392.58,439.15 L392.33,437.88 L392.08,436.61 L391.83,435.35 L391.58,434.08 L391.32,432.81 L391.06,431.55 L390.79,430.29 L390.51,429.03 L390.23,427.77 L389.94,426.52 L389.65,425.26 L389.34,424.02 L389.03,422.77 L388.71,421.53 L388.37,420.29 L388.03,419.06 L387.68,417.83 L387.31,416.60 L386.94,415.38 L386.55,414.17 L386.14,412.96 L385.73,411.76 L385.30,410.56 L384.85,409.37 L384.40,408.18 L383.92,407.00 L383.43,405.83 L382.92,404.66 L382.40,403.50 L381.86,402.34 L381.30,401.18 L380.73,400.03 L380.14,398.89 L379.53,397.75 L378.90,396.61 L378.25,395.48 L377.58,394.35 L376.90,393.22 L376.19,392.10 L375.46,390.98 L374.71,389.87 L373.94,388.78 L373.13,387.73 L372.30,386.72 L371.42,385.76 L370.51,384.86 L369.55,384.04 L368.55,383.31 L367.50,382.67 L366.40,382.13 L365.24,381.72 L364.03,381.42 L362.78,381.25 L361.49,381.19 L360.18,381.24 L358.85,381.40 L357.53,381.66 L356.22,382.01 L354.93,382.46 L353.68,383.00 L352.47,383.62 L351.32,384.31 L350.23,385.08 L349.22,385.93 L348.31,386.83 L347.49,387.80 L346.79,388.82 L346.21,389.89 L345.76,391.01 L345.47,392.17 L345.32,393.36 L345.31,394.57 L345.45,395.77 L345.72,396.95 L346.13,398.10 L346.67,399.18 L347.33,400.20 L348.10,401.13 L348.98,402.00 L349.95,402.80 L350.99,403.56 L352.08,404.28 L353.22,404.98 L354.38,405.66 L355.56,406.33 L356.73,407.01 L357.88,407.71 L359.01,408.43 L360.11,409.17 L361.19,409.93 L362.25,410.71 L363.28,411.51 L364.29,412.33 L365.27,413.17 L366.24,414.03 L367.18,414.90 L368.10,415.80 L369.01,416.70 L369.89,417.63 L370.76,418.57 L371.60,419.52 L372.43,420.49 L373.24,421.47 L374.04,422.47 L374.82,423.47 L375.59,424.49 L376.34,425.52 L377.07,426.56 L377.80,427.61 L378.51,428.68 L379.20,429.75 L379.89,430.82 L380.57,431.91 L381.23,433.00 L381.88,434.11 L382.52,435.22 L383.15,436.33 L383.77,437.46 L384.38,438.59 L384.98,439.73 L385.56,440.87 L386.14,442.02 L386.70,443.18 L387.26,444.34 L387.80,445.51 L388.34,446.69 L388.86,447.87 L389.37,449.05 L389.88,450.24 L390.37,451.44 L390.85,452.64 L391.32,453.84 L391.79,455.05 L392.24,456.26 L392.69,457.47 L393.12,458.69 L393.55,459.92 L393.96,461.14 L394.37,462.37 L394.77,463.60 L395.16,464.84 L395.54,466.07 L395.91,467.31 L396.27,468.55 L396.62,469.79 L396.97,471.04 L397.30,472.28 L397.63,473.53 L397.95,474.78 L398.26,476.02 L398.56,477.27 L398.85,478.52 L399.14,479.77 L399.42,481.02 L399.69,482.27 L399.95,483.52 L400.20,484.76 L400.45,486.01 L400.69,487.26 L400.92,488.50" stroke="#e63a32" stroke-width="0.80"/>
<path d="M238.58,488.60 L238.44,487.30 L238.30,486.01 L238.15,484.72 L237.98,483.43 L237.81,482.15 L237.64,480.87 L237.45,479.60 L237.26,478.32 L237.06,477.05 L236.85,475.78 L236.64,474.51 L236.42,473.25 L236.20,471.98 L235.98,470.72 L235.74,469.46 L235.51,468.20 L235.27,466.94 L235.03,465.68 L234.79,464.42 L234.54,463.16 L234.29,461.91 L234.04,460.65 L233.79,459.39 L233.54,458.13 L233.29,456.88 L233.04,455.62 L232.79,454.36 L232.54,453.10 L232.29,451.83 L232.04,450.57 L231.80,449.31 L231.56,448.04 L231.32,446.77 L231.08,445.50 L230.84,444.23 L230.60,442.96 L230.36,441.69 L230.12,440.42 L229.88,439.15 L229.63,437.88 L229.38,436.61 L229.13,435.35 L228.88,434.08 L228.62,432.81 L228.36,431.55 L228.09,430.29 L227.81,429.03 L227.53,427.77 L227.24,426.52 L226.95,425.26 L226.64,424.02 L226.33,422.77 L226.01,421.53 L225.67,420.29 L225.33,419.06 L224.98,417.83 L224.61,416.60 L224.24,415.38 L223.85,414.17 L223.44,412.96 L223.03,411.76 L222.60,410.56 L222.15,409.37 L221.70,408.18 L221.22,407.00 L220.73,405.83 L220.22,404.66 L219.70,403.50 L219.16,402.34 L218.60,401.18 L218.03,400.03 L217.44,398.89 L216.83,397.75 L216.20,396.61 L215.55,395.48 L214.88,394.35 L214.20,393.22 L213.49,392.10 L212.76,390.98 L212.01,389.87 L211.24,388.78 L210.43,387.73 L209.60,386.72 L208.72,385.76 L207.81,384.86 L206.85,384.04 L205.85,383.31 L204.80,382.67 L203.70,382.13 L202.54,381.72 L201.33,381.42 L200.08,381.25 L198.79,381.19 L197.48,381.24 L196.15,381.40 L194.83,381.66 L193.52,382.01 L192.23,382.46 L190.98,383.00 L189.77,383.62 L188.62,384.31 L187.53,385.08 L186.52,385.93 L185.61,386.83 L184.79,387.80 L184.09,388.82 L183.51,389.89 L183.06,391.01 L182.77,392.17 L182.62,393.36 L182.61,394.57 L182.75,395.77 L183.02,396.95 L183.43,398.10 L183.97,399.18 L184.63,400.20 L185.40,401.13 L186.28,402.00 L187.25,402.80 L188.29,403.56 L189.38,404.28 L190.52,404.98 L191.68,405.66 L192.86,406.33 L194.03,407.01 L195.18,407.71 L196.31,408.43 L197.41,409.17 L198.49,409.93 L199.55,410.71 L200.58,411.51 L201.59,412.33 L202.57,413.17 L203.54,414.03 L204.48,414.90 L205.40,415.80 L206.31,416.70 L207.19,417.63 L208.06,418.57 L208.90,419.52 L209.73,420.49 L210.54,421.47 L211.34,422.47 L212.12,423.47 L212.89,424.49 L213.64,425.52 L214.37,426.56 L215.10,427.61 L215.81,428.68 L216.50,429.75 L217.19,430.82 L217.87,431.91 L218.53,433.00 L219.18,434.11 L219.82,435.22 L220.45,436.33 L221.07,437.46 L221.68,438.59 L222.28,439.73 L222.86,440.87 L223.44,442.02 L224.00,443.18 L224.56,444.34 L225.10,445.51 L225.64,446.69 L226.16,447.87 L226.67,449.05 L227.18,450.24 L227.67,451.44 L228.15,452.64 L228.62,453.84 L229.09,455.05 L229.54,456.26 L229.99,457.47 L230.42,458.69 L230.85,459.92 L231.26,461.14 L231.67,462.37 L232.07,463.60 L232.46,464.84 L232.84,466.07 L233.21,467.31 L233.57,468.55 L233.92,469.79 L234.27,471.04 L234.60,472.28 L234.93,473.53 L235.25,474.78 L235.56,476.02 L235.86,477.27 L236.15,478.52 L236.44,479.77 L236.72,481.02 L236.99,482.27 L237.25,483.52 L237.50,484.76 L237.75,486.01 L237.99,487.26 L238.22,488.50" stroke="#555" stroke-width="0.90" stroke-dasharray="4.2 5.2"/>
<path d="M325.44,293.05 L324.91,294.47 L324.37,295.88 L323.81,297.28 L323.24,298.67 L322.64,300.05 L322.03,301.43 L321.41,302.79 L320.77,304.15 L320.11,305.50 L319.45,306.84 L318.77,308.18 L318.08,309.51 L317.38,310.84 L316.66,312.16 L315.95,313.48 L315.22,314.79 L314.48,316.10 L313.74,317.40 L312.99,318.71 L312.24,320.01 L311.49,321.31 L310.73,322.60 L309.96,323.90 L309.20,325.19 L308.43,326.49 L307.67,327.78 L306.90,329.08 L306.13,330.37 L305.35,331.65 L304.56,332.93 L303.76,334.20 L302.94,335.46 L302.11,336.71 L301.27,337.95 L300.40,339.17 L299.51,340.38 L298.60,341.57 L297.66,342.74 L296.70,343.89 L295.70,345.01 L294.67,346.12 L293.61,347.19 L292.51,348.24 L291.37,349.26 L290.19,350.25 L288.97,351.17 L287.72,352.03 L286.44,352.80 L285.13,353.46 L283.79,354.00 L282.42,354.40 L281.04,354.64 L279.63,354.71 L278.20,354.59 L276.76,354.28 L275.31,353.83 L273.84,353.27 L272.37,352.64 L270.89,352.00 L269.40,351.36 L267.91,350.78 L266.42,350.29 L264.94,349.94 L263.47,349.77 L262.06,349.84 L260.73,350.19 L259.53,350.90 L258.51,351.96 L257.79,353.26 L257.44,354.68 L257.40,356.18 L257.61,357.70 L257.98,359.23 L258.46,360.71 L259.01,362.14 L259.64,363.52 L260.35,364.84 L261.12,366.12 L261.96,367.34 L262.88,368.51 L263.85,369.63 L264.89,370.71 L265.99,371.74 L267.15,372.72 L268.37,373.64 L269.64,374.47 L270.96,375.20 L272.33,375.81 L273.75,376.28 L275.21,376.58 L276.71,376.70 L278.22,376.65 L279.72,376.46 L281.19,376.15 L282.63,375.71 L284.02,375.17 L285.38,374.53 L286.70,373.80 L287.97,373.00 L289.21,372.12 L290.40,371.18 L291.56,370.19 L292.67,369.15 L293.73,368.08 L294.76,366.99 L295.75,365.87 L296.70,364.72 L297.63,363.56 L298.54,362.38 L299.43,361.18 L300.31,359.97 L301.18,358.75 L302.04,357.52 L302.90,356.28 L303.74,355.03 L304.58,353.77 L305.40,352.51 L306.20,351.23 L306.99,349.94 L307.75,348.64 L308.49,347.33 L309.21,346.00 L309.90,344.67 L310.55,343.32 L311.18,341.96 L311.78,340.59 L312.36,339.21 L312.92,337.82 L313.45,336.43 L313.97,335.02 L314.47,333.61 L314.96,332.19 L315.44,330.77 L315.91,329.34 L316.37,327.92 L316.83,326.48 L317.29,325.05 L317.74,323.62 L318.20,322.18 L318.65,320.75 L319.10,319.31 L319.55,317.87 L319.99,316.44 L320.43,315.00 L320.86,313.55 L321.28,312.11 L321.69,310.67 L322.10,309.22 L322.49,307.77 L322.87,306.31 L323.23,304.86 L323.59,303.40 L323.92,301.94 L324.24,300.47 L324.54,299.00 L324.83,297.53 L325.09,296.06 L325.33,294.58 L325.55,293.09" stroke="#555" stroke-width="0.90" stroke-dasharray="4.2 5.2"/>
<path d="M401.28,488.60 L401.14,487.30 L401.00,486.01 L400.85,484.72 L400.68,483.43 L400.51,482.15 L400.34,480.87 L400.15,479.60 L399.96,478.32 L399.76,477.05 L399.55,475.78 L399.34,474.51 L399.12,473.25 L398.90,471.98 L398.68,470.72 L398.44,469.46 L398.21,468.20 L397.97,466.94 L397.73,465.68 L397.49,464.42 L397.24,463.16 L396.99,461.91 L396.74,460.65 L396.49,459.39 L396.24,458.13 L395.99,456.88 L395.74,455.62 L395.49,454.36 L395.24,453.10 L394.99,451.83 L394.74,450.57 L394.50,449.31 L394.26,448.04 L394.02,446.77 L393.78,445.50 L393.54,444.23 L393.30,442.96 L393.06,441.69 L392.82,440.42 L392.58,439.15 L392.33,437.88 L392.08,436.61 L391.83,435.35 L391.58,434.08 L391.32,432.81 L391.06,431.55 L390.79,430.29 L390.51,429.03 L390.23,427.77 L389.94,426.52 L389.65,425.26 L389.34,424.02 L389.03,422.77 L388.71,421.53 L388.37,420.29 L388.03,419.06 L387.68,417.83 L387.31,416.60 L386.94,415.38 L386.55,414.17 L386.14,412.96 L385.73,411.76 L385.30,410.56 L384.85,409.37 L384.40,408.18 L383.92,407.00 L383.43,405.83 L382.92,404.66 L382.40,403.50 L381.86,402.34 L381.30,401.18 L380.73,400.03 L380.14,398.89 L379.53,397.75 L378.90,396.61 L378.25,395.48 L377.58,394.35 L376.90,393.22 L376.19,392.10 L375.46,390.98 L374.71,389.87 L373.94,388.78 L373.13,387.73 L372.30,386.72 L371.42,385.76 L370.51,384.86 L369.55,384.04 L368.55,383.31 L367.50,382.67 L366.40,382.13 L365.24,381.72 L364.03,381.42 L362.78,381.25 L361.49,381.19 L360.18,381.24 L358.85,381.40 L357.53,381.66 L356.22,382.01 L354.93,382.46 L353.68,383.00 L352.47,383.62 L351.32,384.31 L350.23,385.08 L349.22,385.93 L348.31,386.83 L347.49,387.80 L346.79,388.82 L346.21,389.89 L345.76,391.01 L345.47,392.17 L345.32,393.36 L345.31,394.57 L345.45,395.77 L345.72,396.95 L346.13,398.10 L346.67,399.18 L347.33,400.20 L348.10,401.13 L348.98,402.00 L349.95,402.80 L350.99,403.56 L352.08,404.28 L353.22,404.98 L354.38,405.66 L355.56,406.33 L356.73,407.01 L357.88,407.71 L359.01,408.43 L360.11,409.17 L361.19,409.93 L362.25,410.71 L363.28,411.51 L364.29,412.33 L365.27,413.17 L366.24,414.03 L367.18,414.90 L368.10,415.80 L369.01,416.70 L369.89,417.63 L370.76,418.57 L371.60,419.52 L372.43,420.49 L373.24,421.47 L374.04,422.47 L374.82,423.47 L375.59,424.49 L376.34,425.52 L377.07,426.56 L377.80,427.61 L378.51,428.68 L379.20,429.75 L379.89,430.82 L380.57,431.91 L381.23,433.00 L381.88,434.11 L382.52,435.22 L383.15,436.33 L383.77,437.46 L384.38,438.59 L384.98,439.73 L385.56,440.87 L386.14,442.02 L386.70,443.18 L387.26,444.34 L387.80,445.51 L388.34,446.69 L388.86,447.87 L389.37,449.05 L389.88,450.24 L390.37,451.44 L390.85,452.64 L391.32,453.84 L391.79,455.05 L392.24,456.26 L392.69,457.47 L393.12,458.69 L393.55,459.92 L393.96,461.14 L394.37,462.37 L394.77,463.60 L395.16,464.84 L395.54,466.07 L395.91,467.31 L396.27,468.55 L396.62,469.79 L396.97,471.04 L397.30,472.28 L397.63,473.53 L397.95,474.78 L398.26,476.02 L398.56,477.27 L398.85,478.52 L399.14,479.77 L399.42,481.02 L399.69,482.27 L399.95,483.52 L400.20,484.76 L400.45,486.01 L400.69,487.26 L400.92,488.50" stroke="#555" stroke-width="0.90" stroke-dasharray="4.2 5.2"/>
</g>
<path d="M181.50,479.64h3.0 M181.50,471.43h3.0 M181.50,454.99h3.0 M181.50,446.78h3.0 M181.50,438.56h3.0 M181.50,430.35h3.0 M181.50,413.91h3.0 M181.50,405.70h3.0 M181.50,397.48h3.0 M181.50,389.27h3.0 M181.50,372.83h3.0 M181.50,364.62h3.0 M181.50,356.40h3.0 M181.50,348.19h3.0 M181.50,331.75h3.0 M181.50,323.54h3.0 M181.50,315.32h3.0 M181.50,307.11h3.0 M181.50,290.67h3.0 M181.50,282.46h3.0 M195.02,486.00v-3.0 M207.74,486.00v-3.0 M220.46,486.00v-3.0 M233.18,486.00v-3.0 M258.62,486.00v-3.0 M271.34,486.00v-3.0 M284.06,486.00v-3.0 M296.78,486.00v-3.0 M322.22,486.00v-3.0 M334.94,486.00v-3.0 M347.66,486.00v-3.0 M360.38,486.00v-3.0 M385.82,486.00v-3.0 M398.54,486.00v-3.0" stroke="#4a4a4a" stroke-width="0.7" fill="none"/>
<path d="M181.50,298.89h5.0 M181.50,339.97h5.0 M181.50,381.05h5.0 M181.50,422.13h5.0 M181.50,463.21h5.0 M182.30,486.00v-4.6 M245.90,486.00v-4.6 M309.50,486.00v-4.6 M373.10,486.00v-4.6" stroke="#000" stroke-width="1.2" fill="none"/>
<path d="M181.50,278.40H408.85V486.00" stroke="#000" stroke-width="1.25" fill="none"/>
<path d="M181.50,278.40V486.00" stroke="#000" stroke-width="1.3" fill="none" stroke-linecap="square"/>
<path d="M181.50,486.00H408.85" stroke="#000" stroke-width="1.4" fill="none" stroke-linecap="square"/>
<g class="tk" font-size="10.6">
<text x="178.10" y="302.89" text-anchor="end">0.04</text>
<text x="178.10" y="343.97" text-anchor="end">0.02</text>
<text x="178.10" y="385.05" text-anchor="end">0.00</text>
<text x="178.10" y="426.13" text-anchor="end">-0.02</text>
<text x="178.10" y="467.21" text-anchor="end">-0.04</text>
<text x="182.00" y="496.50" text-anchor="middle">0.00</text>
<text x="245.60" y="496.50" text-anchor="middle">0.05</text>
<text x="309.20" y="496.50" text-anchor="middle">0.10</text>
<text x="372.80" y="496.50" text-anchor="middle">0.15</text>
</g>
<text class="lb" x="295.18" y="507.30" text-anchor="middle">x(m)</text>
<text class="lb" transform="translate(154.00,382.50) rotate(-90)" text-anchor="middle">rt(m)</text>
<text class="tt" x="297.00" y="293.60" text-anchor="middle">90% span</text>
<rect x="258.00" y="445.40" width="81.00" height="25.10" fill="#fff" stroke="#8c8c8c" stroke-width="0.6"/>
<path d="M259.90,455.40H296.50" stroke="#e63a32" stroke-width="0.70"/>
<path d="M259.90,465.00H293.50" stroke="#7a7a7a" stroke-width="1.15" stroke-dasharray="5 4.3"/>
<text class="lgb" x="302.70" y="458.40">original</text>
<text class="lgb" x="302.70" y="467.60">optimized</text>
<text class="cp" x="246.90" y="529.00">(<tspan font-weight="bold">c</tspan>)</text>
<text class="cps" transform="translate(263.70,529.00) scale(1.180,1)">90% span</text>
</g>
</svg>
</body></html>
